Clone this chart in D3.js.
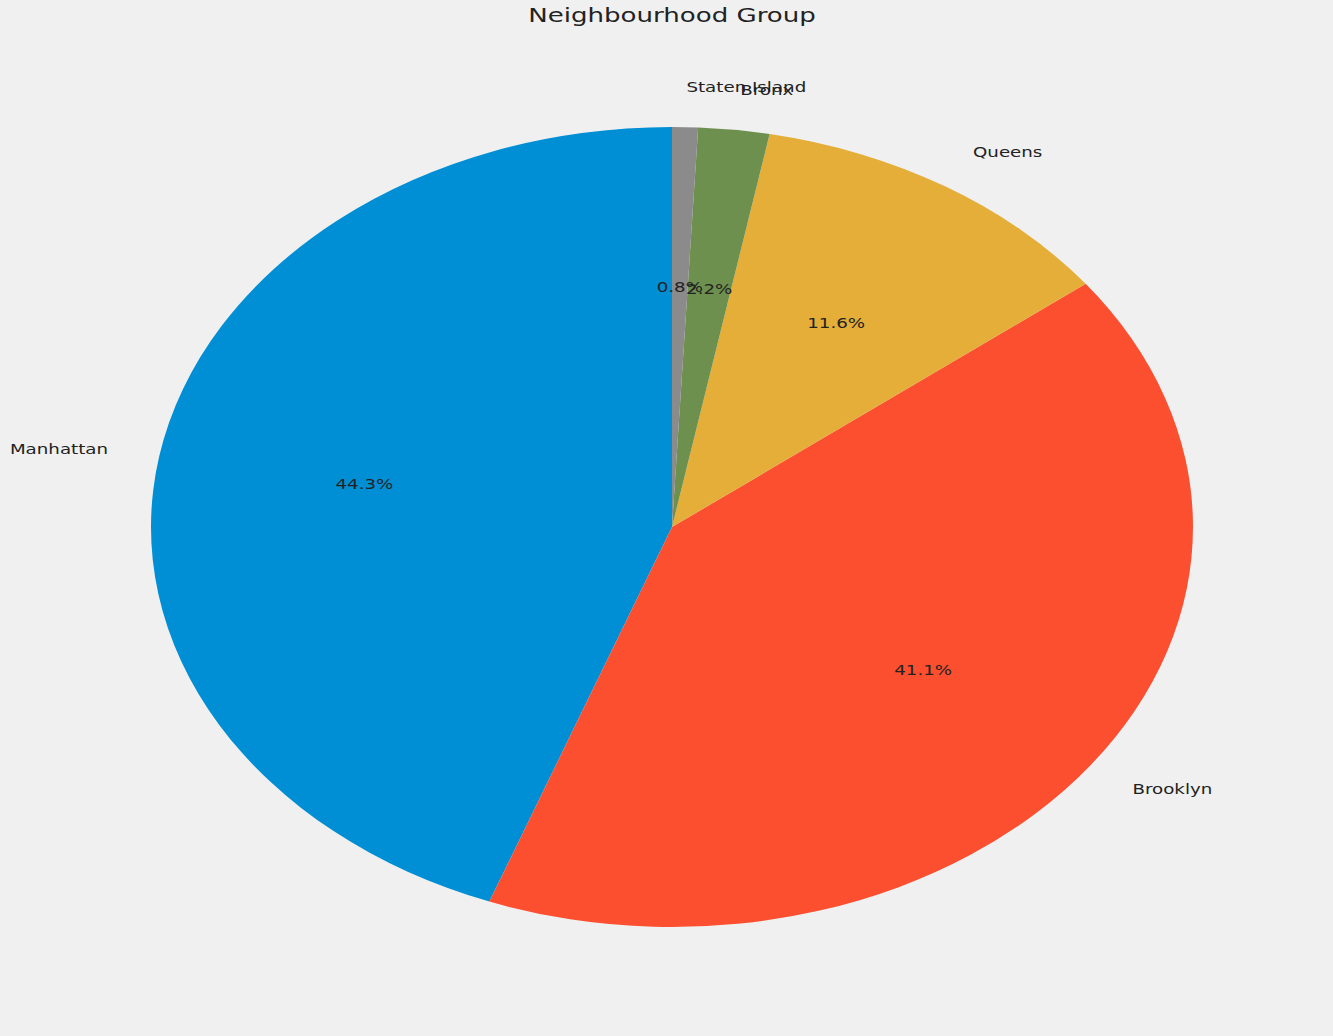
<!DOCTYPE html>
<html><head><meta charset="utf-8">
<script src="https://cdn.jsdelivr.net/npm/d3@7"></script>
<style>body{margin:0;background:#f0f0f0;}svg{display:block;}</style>
</head><body>
<script>
const categories = ["Manhattan","Brooklyn","Queens","Bronx","Staten Island"];
const values = [44.3, 41.1, 11.6, 2.2, 0.8];
const colors = ["#008fd5","#fc4f30","#e5ae38","#6d904f","#8b8b8b"];
const title = "Neighbourhood Group";

const W=1333,H=1036,cx=672,cy=527,R=400,sx=521/400;
const svg=d3.select("body").append("svg").attr("width",W).attr("height",H).style("background","#f0f0f0");
const g=svg.append("g").attr("transform",`translate(${cx},${cy}) scale(${sx},1)`);
const pie=d3.pie().sort(null).startAngle(0).endAngle(-2*Math.PI);
const arcs=pie(values);
const arc=d3.arc().innerRadius(0).outerRadius(R);
g.selectAll("path").data(arcs).join("path").attr("d",arc).attr("fill",(d,i)=>colors[i]);
const font="DejaVu Sans, sans-serif";
arcs.forEach((d,i)=>{
  const a=(d.startAngle+d.endAngle)/2;
  const x=Math.sin(a),y=-Math.cos(a);
  g.append("text").attr("x",1.1*R*x).attr("y",1.1*R*y).attr("dy","0.35em")
    .attr("text-anchor",x<0?"end":"start").attr("font-family",font).attr("font-size",14)
    .attr("fill","#222").text(categories[i]);
  g.append("text").attr("x",0.6*R*x).attr("y",0.6*R*y).attr("dy","0.35em")
    .attr("text-anchor","middle").attr("font-family",font).attr("font-size",14)
    .attr("fill","#222").text(d3.format(".1f")(values[i])+"%");
});
g.append("text").attr("x",0).attr("y",22-cy).attr("text-anchor","middle")
  .attr("font-family",font).attr("font-size",20).attr("fill","#222").text(title);
</script>
</body></html>
